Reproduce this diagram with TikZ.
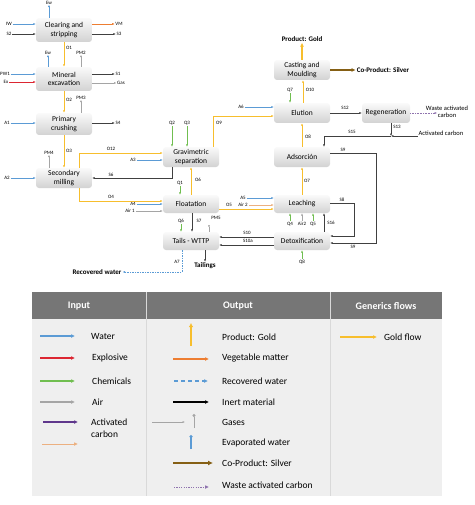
\documentclass[tikz,border=0pt]{standalone}
\usepackage{fontspec}
\setmainfont{Carlito}
\usetikzlibrary{arrows.meta}
\definecolor{goldc}{RGB}{247,190,45}
\definecolor{waterc}{RGB}{91,155,213}
\definecolor{explc}{RGB}{220,38,50}
\definecolor{chemc}{RGB}{112,190,80}
\definecolor{airc}{RGB}{165,165,165}
\definecolor{carbc}{RGB}{95,55,140}
\definecolor{tanc}{RGB}{236,176,128}
\definecolor{vegc}{RGB}{237,125,49}
\definecolor{silvc}{RGB}{133,95,20}
\definecolor{headc}{RGB}{118,118,118}
\definecolor{tabc}{RGB}{239,239,239}

\begin{document}
\begin{tikzpicture}[x=1pt,y=-1pt,
 box/.style={rectangle,rounded corners=3pt,top color=gray!4,bottom color=gray!35,minimum width=56pt,minimum height=20pt,inner sep=1pt,align=center,font=\fontsize{7.5}{8.5}\selectfont},
 lab/.style={inner sep=0.6pt,font=\fontsize{5}{5}\selectfont},
 rlab/.style={inner sep=0.6pt,font=\fontsize{6.5}{7}\selectfont},
 big/.style={inner sep=1pt,font=\bfseries\fontsize{7}{8}\selectfont},
 arr/.style={-{Latex[length=2.4pt,width=2pt]},line width=0.4pt},
 pinline/.style={-{Circle[length=1.8pt]},line width=0.4pt},
 gold/.style={arr,goldc,line width=0.6pt},
 water/.style={arr,waterc},
 expl/.style={arr,explc},
 chem/.style={arr,chemc},
 air/.style={arr,airc},
 carbon/.style={arr,carbc},
 tanflow/.style={arr,tanc},
 veg/.style={arr,vegc},
 inert/.style={arr,black!75},
 rwater/.style={arr,waterc,dash pattern=on 1.5pt off 1pt},
 waste/.style={arr,carbc!70,dash pattern=on 0.8pt off 0.8pt},
 gas/.style={pinline,airc},
 evap/.style={pinline,waterc},
 legtxt/.style={anchor=west,inner sep=0pt,font=\fontsize{9.5}{12}\selectfont},
 headtxt/.style={text=white,font=\bfseries\fontsize{10}{12}\selectfont},
 legarr/.style={line width=1.1pt,-{Latex[length=4pt,width=3.8pt]}}
]
\useasboundingbox (0,0) rectangle (474,505);

% process units
\node at (64,30) [box,minimum height=24pt] (clear) {Clearing and\\stripping};
\node at (64,79) [box,minimum height=24pt] (mine) {Mineral\\excavation};
\node at (64,124) [box,minimum height=22pt] (crush) {Primary\\crushing};
\node at (64,178) [box] (mill) {Secondary\\milling};
\node at (191,157) [box] (grav) {Gravimetric\\separation};
\node at (191,204) [box,minimum height=18pt] (flot) {Floatation};
\node at (191,241) [box,minimum height=18pt] (tails) {Tails - WTTP};
\node at (302,70) [box] (cast) {Casting and\\Moulding};
\node at (302,113) [box] (elut) {Elution};
\node at (386,113) [box,minimum width=48pt] (regen) {Regeneration};
\node at (302,157) [box] (ads) {Adsorción};
\node at (302,204) [box,minimum height=18pt] (leach) {Leaching};
\node at (302,241) [box,minimum height=18pt] (detox) {Detoxification};

% clearing and stripping
\node at (49,3) [lab] (ew1) {Ew};
\node at (9,24) [lab] (iw) {IW};
\node at (9,34) [lab] (s2) {S2};
\node at (119,24) [lab] (vm) {VM};
\node at (119,34) [lab] (s3) {S3};
\node at (69,48) [lab] (o1) {O1};
\draw[evap] (ew1 |- clear.north) -- (ew1);
\draw[water] (iw) -- (iw -| clear.west);
\draw[inert] (s2) -- (s2 -| clear.west);
\draw[veg] (clear.east |- vm) -- (vm);
\draw[inert] (clear.east |- s3) -- (s3);
\draw[gold] (clear.south) -- (mine.north);

% mineral excavation
\node at (48,53) [lab] (ew2) {Ew};
\node at (81,53) [lab] (pm2) {PM2};
\node at (5,74) [lab] (pw1) {PW1};
\node at (6,82) [lab] (ex) {Ex};
\node at (118,74) [lab] (s1) {S1};
\node at (121,83) [lab] (gas1) {Gas};
\node at (69,100) [lab] (o2) {O2};
\node at (81,98) [lab] (pm3) {PM3};
\draw[evap] (ew2 |- mine.north) -- (ew2);
\draw[gas] (pm2 |- mine.north) -- (pm2);
\draw[water] (pw1) -- (pw1 -| mine.west);
\draw[expl] (ex) -- (ex -| mine.west);
\draw[inert] (mine.east |- s1) -- (s1);
\draw[air] (mine.east |- gas1) -- (gas1);
\draw[gold] (mine.south) -- (crush.north);
\draw[gas] (pm3 |- crush.north) -- (pm3);

% primary crushing and milling
\node at (7,123) [lab] (a1) {A1};
\node at (118,123) [lab] (s4) {S4};
\node at (69,151) [lab] (o3) {O3};
\node at (49,153) [lab] (pm4) {PM4};
\node at (7,178) [lab] (a2) {A2};
\node at (111,175) [lab] (s6) {S6};
\node at (111,149) [lab] (o12) {O12};
\node at (111,197) [lab] (o4) {O4};
\node at (133,204) [lab] (a4) {A4};
\node at (130,211) [lab] (air1) {Air 1};
\coordinate (o12c) at (79,153);
\coordinate (o4c) at (79,201);
\coordinate (s6c) at (172,178);
\draw[water] (a1) -- (a1 -| crush.west);
\draw[inert] (crush.east |- s4) -- (s4);
\draw[gold] (crush.south) -- (mill.north);
\draw[gas] (pm4 |- mill.north) -- (pm4);
\draw[water] (a2) -- (a2 -| mill.west);
\draw[gold] (mill.north -| o12c) -- (o12c) -- (o12c -| grav.west);
\draw[gold] (mill.south -| o4c) -- (o4c) -- (o4c -| flot.west);
\draw[inert] (grav.south -| s6c) -- (s6c) -- (s6c -| mill.east);
\draw[water] (a4) -- (a4 -| flot.west);
\draw[air] (air1) -- (air1 -| flot.west);

% gravimetric separation and floatation
\node at (133,160) [lab] (a3) {A3};
\node at (172,123) [lab] (q2) {Q2};
\node at (187,123) [lab] (q3) {Q3};
\node at (219,123) [lab] (o9) {O9};
\node at (198,180) [lab] (o6) {O6};
\node at (180,183) [lab] (q1) {Q1};
\coordinate (o9c) at (213,116);
\draw[water] (a3) -- (a3 -| grav.west);
\draw[chem] (q2) -- (q2 |- grav.north);
\draw[chem] (q3) -- (q3 |- grav.north);
\draw[gold] (grav.north -| o9c) -- (o9c) -- (o9c -| elut.west);
\draw[gold] (flot.north) -- (grav.south);
\draw[chem] (q1) -- (q1 |- flot.north);

\node at (229,205) [lab] (o5) {O5};
\node at (243,198) [lab] (a5) {A5};
\node at (243,205) [lab] (air2a) {Air 2};
\coordinate (o5c) at (240,209);
\draw[gold] (flot.east |- o5c) -- (o5c -| leach.west);
\draw[water] (a5) -- (a5 -| leach.west);
\draw[tanflow] (air2a) -- (air2a -| leach.west);

% tails
\node at (181,221) [lab] (q6) {Q6};
\node at (199,221) [lab] (s7) {S7};
\node at (216,218) [lab] (pm5) {PM5};
\node at (247,233) [lab] (s10) {S10};
\node at (248,241) [lab] (s10a) {S10a};
\node at (205,266) [big] (tailing) {Tailings};
\node at (177,262) [lab] (a7) {A7};
\node at (97,272) [big] (rw) {Recovered water};
\coordinate (pm5c) at (209,225);
\coordinate (s10c) at (250,237);
\coordinate (s10ac) at (250,245);
\draw[chem] (q6) -- (q6 |- tails.north);
\draw[inert] ([xshift=1pt]flot.south) -- ([xshift=1pt]tails.north);
\draw[gas] (tails.north -| pm5c) -- (pm5c);
\draw[inert] (detox.west |- s10c) -- (s10c -| tails.east);
\draw[inert] (detox.west |- s10ac) -- (s10ac -| tails.east);
\draw[inert] (tails.south -| tailing) -- (tailing);
\draw[rwater] ([xshift=-9pt]tails.south) |- (rw);

% casting, elution and regeneration
\node at (302,39) [big] (pgold) {Product: Gold};
\node at (383,70) [big] (cpsil) {Co-Product: Silver};
\node at (290,90) [lab] (q7) {Q7};
\node at (310,90) [lab] (o10) {O10};
\node at (241,107) [lab] (a6) {A6};
\node at (345,108) [lab] (s12) {S12};
\node at (447,112) [rlab,align=center] (wac) {Waste activated\\carbon};
\node at (397,127) [lab] (s13) {S13};
\node at (441,133) [rlab] (acarb) {Activated carbon};
\node at (352,132) [lab] (s15) {S15};
\node at (308,137) [lab] (o8) {O8};
\coordinate (wacend) at (437,113);
\coordinate (jc) at (391,136);
\coordinate (s15c) at (324,136);
\draw[goldc,line width=1.5pt,-{Latex[length=4pt,width=4pt]}] (cast.north) -- (pgold);
\draw[silvc,line width=1.5pt,-{Latex[length=4pt,width=4pt]}] (cast.east) -- (cpsil);
\draw[chem] (q7) -- (q7 |- elut.north);
\draw[gold] ([xshift=1pt]elut.north) -- ([xshift=1pt]cast.south);
\draw[water] (a6) -- (a6 -| elut.west);
\draw[inert] (elut.east) -- (regen.west);
\draw[waste] (regen.east) -- (wacend);
\draw[inert] (regen.south -| jc) -- (jc);
\draw[inert] (acarb.west |- jc) -- (jc);
\draw[inert] (jc) -- (s15c) -- (s15c |- ads.north);
\draw[gold] (ads.north) -- (elut.south);

% adsorcion, leaching and detoxification
\node at (343,150) [lab] (s9) {S9};
\node at (353,247) [lab] (s9b) {S9};
\node at (307,181) [lab] (o7) {O7};
\node at (342,200) [lab] (s8) {S8};
\node at (290,224) [lab] (q4) {Q4};
\node at (302,224) [lab] (air2b) {Air2};
\node at (313,224) [lab] (q5) {Q5};
\node at (331,223) [lab] (s16) {S16};
\node at (302,262) [lab] (q8) {Q8};
\coordinate (s9c) at (376,153);
\coordinate (s9d) at (376,243);
\coordinate (s8c) at (354,203);
\coordinate (s8d) at (354,236);
\draw[inert] (ads.east |- s9c) -- (s9c) -- (s9d) -- (s9d -| detox.east);
\draw[gold] (leach.north) -- (ads.south);
\draw[inert] (leach.east |- s8c) -- (s8c) -- (s8d) -- (s8d -| detox.east);
\draw[chem] (q4) -- (q4 |- leach.south);
\draw[air] (air2b) -- (air2b |- leach.south);
\draw[chem] (q5) -- (q5 |- leach.south);
\draw[inert] ([xshift=22pt]detox.north) -- ([xshift=22pt]leach.south);
\draw[chem] (q8) -- (detox.south);

% legend
\fill[tabc] (32,292) rectangle (442,496);
\fill[headc] (32,292) rectangle (442,319);
\draw[gray!30,line width=0.8pt] (146,292) -- (146,496);
\draw[gray!30,line width=0.8pt] (330,292) -- (330,496);
\node at (79,306) [headtxt] (hin) {Input};
\node at (238,306) [headtxt] (hout) {Output};
\node at (386,306) [headtxt] (hgen) {Generics flows};

\node at (91,336) [legtxt] (lwat) {Water};
\node at (92,358) [legtxt] (lexp) {Explosive};
\node at (92,381) [legtxt] (lchem) {Chemicals};
\node at (92,402) [legtxt] (lair) {Air};
\node at (91,428) [legtxt,align=left] (lcarb) {Activated\\carbon};
\draw[water,legarr] (40,336) -- (75,336);
\draw[expl,legarr] (40,358) -- (75,358);
\draw[chem,legarr] (40,381) -- (75,381);
\draw[air,legarr] (40,402) -- (75,402);
\draw[carbon,legarr,line width=1.5pt] (43,422) -- (78,422);
\draw[tanflow,legarr,line width=0.8pt] (42,444) -- (78,444);

\node at (222,337) [legtxt] (lgold) {Product: Gold};
\node at (222,358) [legtxt] (lveg) {Vegetable matter};
\node at (222,381) [legtxt] (lrw) {Recovered water};
\node at (222,402) [legtxt] (linert) {Inert material};
\node at (222,422) [legtxt] (lgas) {Gases};
\node at (222,443) [legtxt] (levap) {Evaporated water};
\node at (222,463) [legtxt] (lsilv) {Co-Product: Silver};
\node at (222,485) [legtxt] (lwac) {Waste activated\ carbon};
\draw[goldc,line width=1.8pt,-{Latex[length=4pt,width=4.5pt]}] (191,346) -- (191,323);
\draw[veg,legarr] (173,359) -- (209,359);
\draw[rwater,legarr,dash pattern=on 4pt off 3pt] (174,381) -- (208,381);
\draw[inert,legarr,black] (173,402) -- (209,402);
\draw[air,line width=0.5pt] (152,422) -- (185,422);
\draw[gas,line width=1pt,-{Circle[length=3pt]}] (194,428) -- (194,414);
\draw[evap,line width=1.2pt,-{Circle[length=3pt]}] (191,449) -- (191,435);
\draw[silvc,line width=1.8pt,-{Latex[length=5pt,width=5pt]}] (173,463) -- (213,463);
\draw[waste,legarr,line width=0.8pt,dash pattern=on 1.2pt off 1.2pt] (174,487) -- (209,487);

\node at (384,337) [legtxt] (lgflow) {Gold flow};
\draw[gold,legarr] (340,337) -- (377,337);
\end{tikzpicture}
\end{document}
